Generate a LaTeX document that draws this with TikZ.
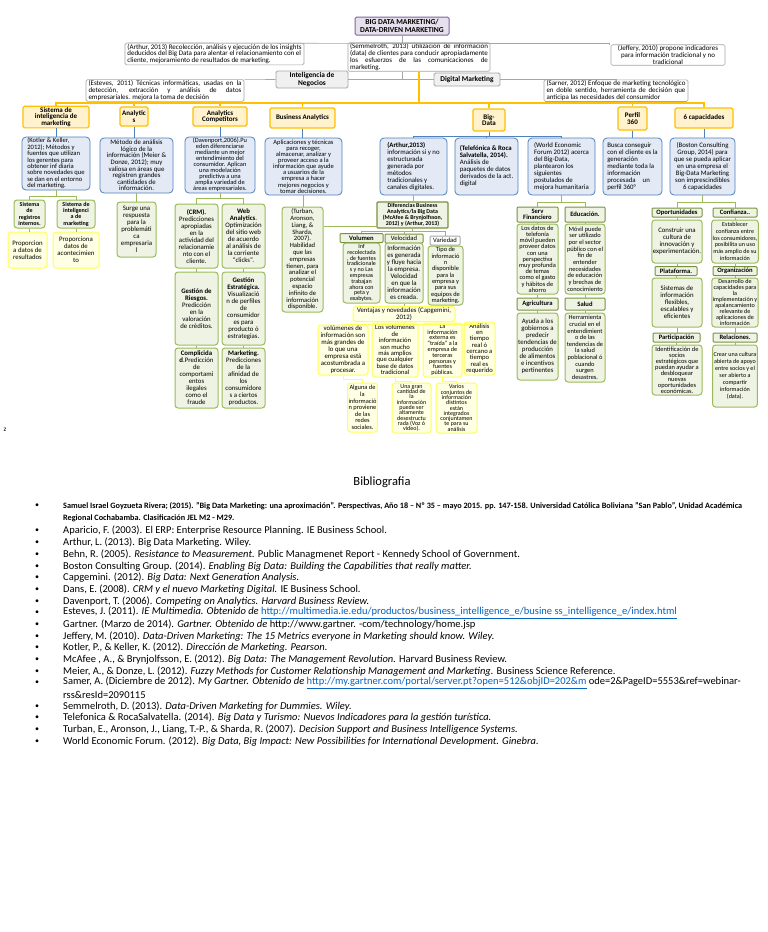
\documentclass[tikz,border=0pt]{standalone}
\usepackage{fontspec}
\setmainfont{Carlito}
\definecolor{rootline}{HTML}{8064A2}
\definecolor{rootfill}{HTML}{E5E0EC}
\definecolor{grayline}{HTML}{A6A6A6}
\definecolor{grayfill}{HTML}{F0F0F0}
\definecolor{goldline}{HTML}{FFC000}
\definecolor{goldfill}{HTML}{FFF2CC}
\definecolor{blueline}{HTML}{4F81BD}
\definecolor{bluefill}{HTML}{E3EAF5}
\definecolor{greenline}{HTML}{9BBB59}
\definecolor{greendark}{HTML}{77933C}
\definecolor{greenfill}{HTML}{EEF3E3}
\definecolor{yelline}{HTML}{FFFF55}
\definecolor{yelfill}{HTML}{FFFFE3}
\definecolor{linkblue}{HTML}{0563C1}
\newcommand\weblink[1]{\textcolor{linkblue}{\underline{#1}}}
\newcommand\urlsize{\fontsize{10.5}{12}\selectfont}

\begin{document}
\begin{tikzpicture}[
    x=1pt, y=-1pt,
    mmbox/.style={rectangle, inner sep=1pt, align=center,
        font=\fontsize{6.8}{7}\selectfont},
    wh/.style 2 args={minimum width=#1, minimum height=#2},
    fs/.style 2 args={font=\fontsize{#1}{#2}\selectfont},
    rootbox/.style={mmbox, draw=rootline, fill=rootfill, line width=1pt,
        rounded corners=1.5pt, font=\bfseries\fontsize{7.6}{8}\selectfont},
    graybox/.style={mmbox, draw=grayline, fill=white, line width=0.6pt,
        rounded corners=1.5pt, align=left, font=\fontsize{7}{6.7}\selectfont},
    topicbox/.style={mmbox, draw=grayline, fill=grayfill, line width=0.8pt,
        rounded corners=1.5pt, font=\bfseries\fontsize{7.4}{7.4}\selectfont},
    goldbox/.style={mmbox, draw=goldline, fill=goldfill, line width=1.2pt,
        rounded corners=1.5pt, font=\bfseries\fontsize{7}{6.8}\selectfont},
    bluebox/.style={mmbox, draw=blueline, fill=bluefill, line width=0.8pt,
        rounded corners=4pt},
    greenbox/.style={mmbox, draw=greenline, fill=greenfill, line width=1pt,
        rounded corners=3pt},
    greenhead/.style={greenbox, draw=greendark, rounded corners=1pt,
        font=\bfseries\fontsize{6.6}{6.5}\selectfont},
    yelbox/.style={mmbox, draw=yelline, fill=yelfill, line width=1pt,
        rounded corners=3pt},
    grayconn/.style={draw=grayline, line width=0.6pt},
    goldconn/.style={draw=goldline, line width=1.2pt},
    blueconn/.style={draw=blueline, line width=0.8pt},
    greenconn/.style={draw=greenline, line width=1pt},
    yelconn/.style={draw=yelline, line width=1pt},
    bibtext/.style={anchor=west, inner sep=0pt, font=\fontsize{10.5}{12}\selectfont},
    bulletmark/.style={inner sep=0pt, font=\fontsize{8}{10}\selectfont}
]

\path[fill=white, use as bounding box] (0,0) rectangle (768,932);

% ------------------------------------------------------------
% Top: root and definitions
% ------------------------------------------------------------

\node[rootbox, wh={94}{18}] (root) at (402,26) {BIG DATA MARKETING/\\DATA-DRIVEN MARKETING};

\node[graybox, wh={179}{20}] (arthur) at (214.5,54)
    {(Arthur, 2013) Recolección, análisis y ejecución de los insights\\
     deducidos del Big Data para alentar el relacionamiento con el\\
     cliente, mejoramiento de resultados de marketing.};
\node[graybox, wh={142}{20}] (semm) at (419,57)
    {\makebox[138pt][s]{(Semmelroth, 2013) utilización de información}\\
     \makebox[138pt][s]{(data) de clientes para conducir apropiadamente}\\
     \makebox[138pt][s]{los esfuerzos de las comunicaciones de}\\
     marketing.};
\node[graybox, wh={114}{18}, align=center] (jeff) at (668,55)
    {(Jeffery, 2010) propone indicadores\\para información tradicional y no\\tradicional};

\node[topicbox, wh={72}{17}] (intel) at (312,79.5) {Inteligencia de\\Negocios};
\node[topicbox, wh={66}{13}] (digital) at (467,79.5) {Digital Marketing};

\node[graybox, wh={158}{21}] (esteves) at (165,90.5)
    {\makebox[153pt][s]{(Esteves, 2011) Técnicas informáticas, usadas en la}\\
     \makebox[153pt][s]{detección, extracción y análisis de datos}\\
     empresariales. mejora la toma de decisión};
\node[graybox, wh={144}{20}] (sarner) at (616,90.7)
    {\makebox[139pt][s]{(Sarner, 2012) Enfoque de marketing tecnológico}\\
     \makebox[139pt][s]{en doble sentido, herramienta de decisión que}\\
     anticipa las necesidades del consumidor};

\draw[grayconn] (root.south) -- ++(0,8) coordinate (tb);
\draw[grayconn] (tb) -- ([xshift=3pt]arthur.north west);
\draw[grayconn] (tb) -| ([xshift=-1pt]jeff.north west);
\draw[grayconn] (semm.south -| root.south) -- (intel.east -| root.south);
\draw[grayconn] (esteves.north east) -- (intel.west);
\draw[grayconn] (intel.east) -- (digital.west);
\draw[grayconn] (digital.east) -| (sarner.north);

% ------------------------------------------------------------
% Second level
% ------------------------------------------------------------

\node[goldbox, wh={66}{20}] (sim)  at (56,117)    {Sistema de\\inteligencia de\\marketing};
\node[goldbox, wh={28}{19}] (ana)  at (134,116.5) {Analytic\\s};
\node[goldbox, wh={54}{19}] (comp) at (220,116.5) {Analytics\\Competitors};
\node[goldbox, wh={65}{20}] (busa) at (302.5,118) {Business Analytics};
\node[goldbox, wh={32}{22}] (big)  at (489,120)   {Big-\\Data};
\node[goldbox, wh={29}{23}] (per)  at (632.5,118.5) {Perfil\\360};
\node[goldbox, wh={58}{20}] (cap)  at (704,118)   {6 capacidades};

\draw[goldconn] (semm.south) -- (semm.south |- 0,103) coordinate (gb);
\foreach \n in {sim,ana,comp,busa,big,per,cap}
    \draw[goldconn] (gb) -| (\n.north);

% ------------------------------------------------------------
% Third level
% ------------------------------------------------------------

\node[bluebox, wh={68}{53}, align=left, fs={6.6}{6.4}] (kot) at (56,163.5)
    {(Kotler \& Keller,\\2012); Métodos y\\fuentes que utilizan\\los gerentes para\\obtener inf diaria\\sobre novedades que\\se dan en el entorno\\del marketing.};
\node[bluebox, wh={73}{55}, fs={6.8}{6.6}] (mei) at (136.5,165.5)
    {Método de análisis\\lógico de la\\información (Meier \&\\Donze, 2012); muy\\valiosa en áreas que\\registren grandes\\cantidades de\\información.};
\node[bluebox, wh={70}{56}, fs={6.4}{6}] (dav) at (220,165)
    {(Davenport,2006).Pu\\eden diferenciarse\\mediante un mejor\\entendimiento del\\consumidor. Aplican\\una modelación\\predictiva a una\\amplia variedad de\\áreas empresariales.};
\node[bluebox, wh={77}{57}, fs={6.5}{6.1}] (busd) at (303.5,166.5)
    {Aplicaciones y técnicas\\para recoger,\\almacenar, analizar y\\proveer acceso a la\\información que ayude\\a usuarios de la\\empresa a hacer\\mejores negocios y\\tomar decisiones.};
\node[bluebox, wh={67}{57}, align=left] (art) at (413.5,166.5)
    {\textbf{(Arthur,2013)}\\información si y no\\estructurada\\generada por\\métodos\\tradicionales y\\canales digitales.};
\node[bluebox, wh={63}{57}, align=left] (tel) at (486.5,166.5)
    {\textbf{(Telefónica \& Roca}\\\textbf{Salvatella, 2014).}\\Análisis de\\paquetes de datos\\derivados de la act.\\digital};
\node[bluebox, wh={67}{57}, align=left] (wef) at (561.5,166.5)
    {(World Economic\\Forum 2012) acerca\\del Big-Data,\\plantearon los\\siguientes\\postulados de\\mejora humanitaria};
\node[bluebox, wh={59}{57}, align=left] (perd) at (632.5,166.5)
    {Busca conseguir\\con el cliente es la\\generación\\mediante toda la\\información\\procesada\hspace{7pt}un\\perfil 360°};
\node[bluebox, wh={65}{57}] (bos) at (702.5,166.5)
    {(Boston Consulting\\Group, 2014) para\\que se pueda aplicar\\en una empresa el\\Big-Data Marketing\\son imprescindibles\\6 capacidades};

\foreach \a/\b in {sim/kot, ana/mei, comp/dav, busa/busd, per/perd, cap/bos}
    \draw[blueconn] (\a.south) -- (\a.south |- \b.north);
\draw[blueconn] (big.south) -- ++(0,5) coordinate (bb);
\foreach \n in {art,tel,wef}
    \draw[blueconn] (bb) -| (\n.north);

% ------------------------------------------------------------
% Left branches
% ------------------------------------------------------------

\node[greenbox, wh={31}{28}, font=\bfseries\fontsize{6}{6.4}\selectfont] (sri) at (29.5,214)
    {Sistema\\de\\registros\\internos.};
\node[greenbox, wh={38}{28}, font=\bfseries\fontsize{6}{6.4}\selectfont] (sim2) at (76,214)
    {Sistema de\\inteligenci\\a de\\marketing};
\node[yelbox, wh={39}{36}] (prop1) at (27.5,250) {Proporcion\\a datos de\\resultados};
\node[yelbox, wh={46}{36}] (prop2) at (76,250) {Proporciona\\datos de\\acontecimien\\to};
\node[greenbox, wh={39}{55}] (surge) at (136.5,229.5)
    {Surge una\\respuesta\\para la\\problemáti\\ca\\empresaria\\l};

\draw[greenconn] (kot.south) -- ++(0,6) coordinate (kb);
\foreach \n in {sri,sim2}
    \draw[greenconn] (kb) -| (\n.north);
\draw[greenconn] (sri.south) -- (sri.south |- prop1.north);
\draw[greenconn] (sim2.south) -- (sim2.south |- prop2.north);
\draw[greenconn] (mei.south) -- (mei.south |- surge.north);

\node[greenbox, wh={43}{64}] (crm) at (196.5,236)
    {\textbf{(CRM).}\\Predicciones\\apropiadas\\en la\\actividad del\\relacionamie\\nto con el\\cliente.};
\node[greenbox, wh={43}{64}] (web) at (243.5,236)
    {\textbf{Web}\\\textbf{Analytics}.\\Optimización\\del sitio web\\de acuerdo\\al análisis de\\la corriente\\``clicks''.};
\node[greenbox, wh={43}{73}] (rie) at (196.5,308.5)
    {\textbf{Gestión de}\\\textbf{Riesgos.}\\Predicción\\en la\\valoración\\de créditos.};
\node[greenbox, wh={43}{73}] (est) at (243.5,308.5)
    {\textbf{Gestión}\\\textbf{Estratégica.}\\Visualizació\\n de perfiles\\de\\consumidor\\es para\\producto ó\\estrategias.};
\node[greenbox, wh={43}{60}] (cpl) at (196.5,378)
    {\textbf{Complicida}\\\textbf{d}.Predicción\\de\\comportami\\entos\\ilegales\\como el\\fraude};
\node[greenbox, wh={43}{60}] (mkt) at (243.5,378)
    {\textbf{Marketing.}\\Predicciones\\de la\\afinidad de\\los\\consumidore\\s a ciertos\\productos.};

\draw[greenconn] (dav.south) -- ++(0,5) coordinate (db);
\foreach \n in {crm,web}
    \draw[greenconn] (db) -| (\n.north);
\foreach \a/\b in {crm/rie, rie/cpl, web/est, est/mkt}
    \draw[greenconn] (\a.south) -- (\a.south |- \b.north);

% ------------------------------------------------------------
% Business analytics / Big data: V's
% ------------------------------------------------------------

\node[greenbox, wh={41}{105}, fs={6.6}{6.8}] (tur) at (302.5,259.5)
    {(Turban,\\Aronson,\\Liang, \&\\Sharda,\\2007).\\Habilidad\\que las\\empresas\\tienen, para\\analizar el\\potencial\\espacio\\infinito de\\información\\disponible.};
\node[greenbox, wh={71}{26}, draw=greendark, line width=1.3pt, rounded corners=1pt,
      font=\bfseries\fontsize{5.9}{5.9}\selectfont] (dif) at (412.5,215)
    {Diferencias Business\\Analytics/la Big Data\\(McAfee \& Brynjolfsson,\\2012) y (Arthur, 2013)};

\draw[greenconn] (busd.south) -- (busd.south |- tur.north);
\draw[greenconn] ([yshift=2pt]dif.south west) -- ([yshift=2pt]dif.south west -| tur.east);
\draw[greenconn] (art.south) -- (art.south |- dif.north);

\node[greenhead, wh={43}{9}] (vol) at (361.5,238) {Volumen};
\node[greenhead, wh={38}{9}, font=\fontsize{6.6}{6.5}\selectfont] (vel) at (404,238.5) {Velocidad};
\node[greenhead, wh={30}{9}, draw=grayline, fill=white, font=\fontsize{6.6}{6.5}\selectfont] (var) at (445,240.5) {Variedad};

\node[greenbox, wh={37}{60}, fs={6}{5.8}] (vold) at (361.5,273)
    {Inf\\recolectada\\, de fuentes\\tradicionale\\s y no Las\\empresas\\trabajan\\ahora con\\peta y\\exabytes.};
\node[greenbox, wh={38}{60}] (veld) at (404,273)
    {Información\\es generada\\y fluye hacia\\la empresa.\\Velocidad\\en que la\\información\\es creada.};
\node[greenbox, wh={35}{59}, fs={6.4}{6.3}] (vard) at (445.5,275.5)
    {Tipo de\\informació\\n\\disponible\\para la\\empresa y\\para sus\\equipos de\\marketing.};

\draw[greenconn] (dif.south) -- ++(0,3) coordinate (vb);
\foreach \n in {vol,vel,var}
    \draw[greenconn] (vb) -| (\n.north);
\foreach \a/\b in {vol/vold, vel/veld, var/vard}
    \draw[greenconn] (\a.south) -- (\a.south |- \b.north);

\node[yelbox, wh={102}{12}, fs={6.8}{5.8}] (vent) at (404,314)
    {Ventajas y novedades (Capgemini,\\2012)};
\draw[greenconn] (veld.south) -- (veld.south |- vent.north);

\node[yelbox, wh={50}{50}] (ya) at (343,350)
    {volúmenes de\\información son\\más grandes de\\lo que una\\empresa está\\acostumbrada a\\procesar.};
\node[yelbox, wh={46}{54}, fs={6.6}{6.4}] (yb) at (395,350)
    {Los volúmenes\\de\\información\\son mucho\\más amplios\\que cualquier\\base de datos\\tradicional};
\node[yelbox, wh={39}{54}, fs={6.2}{5.8}] (yc) at (442.5,350)
    {La\\información\\externa es\\``traída'' a la\\empresa de\\terceras\\personas y\\fuentes\\públicas.};
\node[yelbox, wh={31}{53}, fs={6.6}{6.3}] (yd) at (479.5,348.5)
    {Análisis\\en\\tiempo\\real ó\\cercano a\\tiempo\\real es\\requerido};
\node[yelbox, wh={28}{49}, fs={6.4}{6.6}] (ye) at (362.5,407.5)
    {Alguna de\\la\\informació\\n proviene\\de las\\redes\\sociales.};
\node[yelbox, wh={39}{50}, fs={6}{5.3}] (yf) at (411.5,408)
    {Una gran\\cantidad de\\la\\información\\puede ser\\altamente\\desestructu\\rada (Voz ó\\video).};
\node[yelbox, wh={41}{50}, fs={6}{5.3}] (yg) at (456.5,408)
    {Varios\\conjuntos de\\información\\distintos\\están\\integrados\\conjuntamen\\te para su\\análisis};

\draw[yelconn] (vent.south) -- ++(0,2) coordinate (yy);
\foreach \n in {ya,yb,yc,yd}
    \draw[yelconn] (yy) -| (\n.north);
\foreach \a/\b in {ya/ye, yb/yf, yc/yg}
    \draw[yelconn] (\a.south) -- ++(0,4) -| (\b.north);

% ------------------------------------------------------------
% Big data: world economic forum
% ------------------------------------------------------------

\node[greenhead, wh={41}{15}] (sfin) at (537.5,214.5) {Serv\\Financiero};
\node[greenhead, wh={40}{15}] (edu)  at (585,214.5)   {Educación.};
\node[greenbox, wh={41}{70}, fs={6.4}{6.2}] (sfind) at (537.5,259)
    {Los datos de\\telefonía\\móvil pueden\\proveer datos\\con una\\perspectiva\\muy profunda\\de temas\\como el gasto\\y hábitos de\\ahorro};
\node[greenbox, wh={40}{70}, fs={6.4}{6.7}] (edud) at (585,259)
    {Móvil puede\\ser utilizado\\por el sector\\público con el\\fin de\\entender\\necesidades\\de educación\\y brechas de\\conocimiento};
\node[greenhead, wh={41}{12}] (agr) at (537.5,304) {Agricultura};
\node[greenhead, wh={40}{12}] (sal) at (585,304)   {Salud};
\node[greenbox, wh={41}{67}] (agrd) at (537.5,346.5)
    {Ayuda a los\\gobiernos a\\predecir\\tendencias de\\producción\\de alimentos\\e incentivos\\pertinentes};
\node[greenbox, wh={40}{69}, fs={6.4}{6.6}] (sald) at (585,347.5)
    {Herramienta\\crucial en el\\entendimient\\o de las\\tendencias de\\la salud\\poblacional ó\\cuando\\surgen\\desastres.};

\draw[greenconn] (wef.south) -- ++(0,7) coordinate (wb);
\foreach \n in {sfin,edu}
    \draw[greenconn] (wb) -| (\n.north);
\foreach \a/\b in {sfin/sfind, sfind/agr, agr/agrd, edu/edud, edud/sal, sal/sald}
    \draw[greenconn] (\a.south) -- (\a.south |- \b.north);

% ------------------------------------------------------------
% 6 capacidades
% ------------------------------------------------------------

\node[greenhead, wh={50}{9}] (opo) at (677,212.5) {Oportunidades};
\node[greenhead, wh={44}{9}] (con) at (735,212.5) {Confianza..};
\node[greenbox, wh={50}{43}] (opod) at (677,241.5)
    {Construir una\\cultura de\\innovación y\\experimentación.};
\node[greenbox, wh={44}{43}, fs={6.1}{6.7}] (cond) at (735,241.5)
    {Establecer\\confianza entre\\los consumidores,\\posibilita un uso\\más amplio de su\\información};
\node[greenhead, wh={42}{9}] (pla) at (676,271) {Plataforma.};
\node[greenhead, wh={44}{9}] (org) at (735,271) {Organización};
\node[greenbox, wh={50}{49}] (plad) at (677,302.5)
    {Sistemas de\\información\\flexibles,\\escalables y\\eficientes};
\node[greenbox, wh={44}{49}, fs={6.1}{5.9}] (orgd) at (735,302.5)
    {Desarrollo de\\capacidades para\\la\\implementación y\\apalancamiento\\relevante de\\aplicaciones de\\información};
\node[greenhead, wh={47}{9}] (par) at (676.5,337.5) {Participación};
\node[greenhead, wh={44}{9}] (rel) at (735,337.5) {Relaciones.};
\node[greenbox, wh={50}{50}, fs={6.4}{6}] (pard) at (677,370)
    {Identificación de\\socios\\estratégicos que\\puedan ayudar a\\desbloquear\\nuevas\\oportunidades\\económicas.};
\node[greenbox, wh={44}{62}, fs={6.1}{7}] (reld) at (735,376)
    {Crear una cultura\\abierta de apoyo\\entre socios y el\\ser abierto a\\compartir\\información\\(data).};

\draw[greenconn] (bos.south) -- ++(0,7) coordinate (cb);
\foreach \n in {opo,con}
    \draw[greenconn] (cb) -| (\n.north);
\foreach \a/\b in {opo/opod, opod/pla, pla/plad, plad/par, par/pard,
                   con/cond, cond/org, org/orgd, orgd/rel, rel/reld}
    \draw[greenconn] (\a.south) -- (\a.south |- \b.north);

\node[inner sep=0pt, font=\fontsize{7}{8}\selectfont] (zz) at (5,430) {z};

% ------------------------------------------------------------
% Bibliografia
% ------------------------------------------------------------

\node[font=\fontsize{12.5}{14}\selectfont] (bibtitle) at (382,482) {Bibliografia};

\foreach \y [count=\i] in {506,531,543,555,567,578,590,602,613,625,637,648,660,672,683,707,718,730,742}
    \node[bulletmark] (bul\i) at (37,\y) {•};

\node[bibtext, font=\bfseries\fontsize{8.2}{10}\selectfont] (ref1) at (63,506)
    {Samuel Israel Goyzueta Rivera; (2015). "Big Data Marketing: una aproximación". Perspectivas, Año 18 – Nº 35 – mayo 2015. pp. 147-158. Universidad Católica Boliviana "San Pablo", Unidad Académica};
\node[bibtext, font=\bfseries\fontsize{8.2}{10}\selectfont] (cont1) at (63,518)
    {Regional Cochabamba. Clasificación JEL M2 - M29.};
\node[bibtext] (ref2) at (63,531) {Aparicio, F. (2003). El ERP: Enterprise Resource Planning. IE Business School.};
\node[bibtext] (ref3) at (63,543) {Arthur, L. (2013). Big Data Marketing. Wiley.};
\node[bibtext] (ref4) at (63,555) {Behn, R. (2005). \textit{Resistance to Measurement.} Public Managmenet Report - Kennedy School of Government.};
\node[bibtext] (ref5) at (63,567) {Boston Consulting Group. (2014). \textit{Enabling Big Data: Building the Capabilities that really matter.}};
\node[bibtext] (ref6) at (63,578) {Capgemini. (2012). \textit{Big Data: Next Generation Analysis.}};
\node[bibtext] (ref7) at (63,590) {Dans, E. (2008). \textit{CRM y el nuevo Marketing Digital.} IE Business School.};
\node[bibtext] (ref8) at (63,602) {Davenport, T. (2006). \textit{Competing on Analytics. Harvard Business Review.}};
\node[bibtext] (ref9) at (63,613) {Esteves, J. (2011). \textit{IE Multimedia. Obtenido de} {\urlsize\weblink{http://multimedia.ie.edu/productos/business\_intelligence\_e/busine ss\_intelligence\_e/index.html}}};
\node[bibtext] (ref10) at (63,625) {Gartner. (Marzo de 2014). \textit{Gartner. Obtenido de} {\urlsize http://www.gartner. -com/technology/home.jsp}};
\node[bibtext] (ref11) at (63,637) {Jeffery, M. (2010). \textit{Data-Driven Marketing: The 15 Metrics everyone in Marketing should know. Wiley.}};
\node[bibtext] (ref12) at (63,648) {Kotler, P., \& Keller, K. (2012). \textit{Dirección de Marketing. Pearson.}};
\node[bibtext] (ref13) at (63,660) {McAfee , A., \& Brynjolfsson, E. (2012). \textit{Big Data: The Management Revolution.} Harvard Business Review.};
\node[bibtext] (ref14) at (63,672) {Meier, A., \& Donze, L. (2012). \textit{Fuzzy Methods for Customer Relationship Management and Marketing.} Business Science Reference.};
\node[bibtext] (ref15) at (63,683) {Samer, A. (Diciembre de 2012). \textit{My Gartner. Obtenido de} {\urlsize\weblink{http://my.gartner.com/portal/server.pt?open=512\&objID=202\&m} ode=2\&PageID=5553\&ref=webinar-}};
\node[bibtext] (cont2) at (63,695) {{\urlsize rss\&resId=2090115}};
\node[bibtext] (ref16) at (63,707) {Semmelroth, D. (2013). \textit{Data-Driven Marketing for Dummies. Wiley.}};
\node[bibtext] (ref17) at (63,718) {Telefonica \& RocaSalvatella. (2014). \textit{Big Data y Turismo: Nuevos Indicadores para la gestión turística.}};
\node[bibtext] (ref18) at (63,730) {Turban, E., Aronson, J., Liang, T.-P., \& Sharda, R. (2007). \textit{Decision Support and Business Intelligence Systems.}};
\node[bibtext] (ref19) at (63,742) {World Economic Forum. (2012). \textit{Big Data, Big Impact: New Possibilities for International Development. Ginebra.}};

\end{tikzpicture}
\end{document}
